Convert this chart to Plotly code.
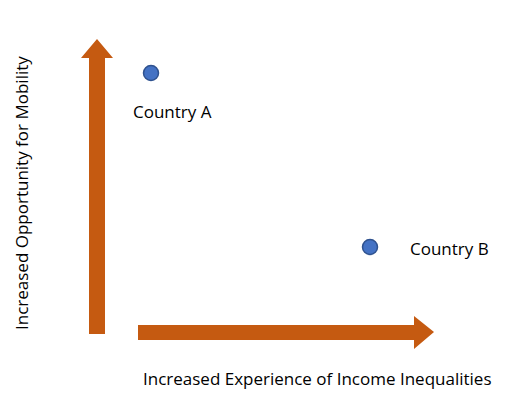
import plotly.graph_objects as go

# positions on a 516 x 411 canvas grid (x right, y down)
countries = ["Country A", "Country B"]
inequality = [150, 369]
mobility = [72, 246]
label_dx = [21, 79]
label_dy = [38, 1]

ORANGE = "#C55A11"
BLUE = "#4472C4"
SHIFT = 7  # compensates the page's body margin

fig = go.Figure()
fig.add_trace(go.Scatter(
    x=inequality, y=mobility, mode="markers",
    marker=dict(size=15, color=BLUE, line=dict(color="#2F528F", width=1.5)),
    hoverinfo="text", text=countries, showlegend=False,
))
for name, x, y, dx, dy in zip(countries, inequality, mobility, label_dx, label_dy):
    fig.add_annotation(x=x + dx, y=y + dy, text=name, showarrow=False,
                       font=dict(size=17, color="#000000"))

# vertical arrow
fig.add_shape(type="path", fillcolor=ORANGE, line=dict(width=0),
              path="M 88 333 L 104 333 L 104 57 L 112 57 L 96 38 L 80 57 L 88 57 Z")
# horizontal arrow
fig.add_shape(type="path", fillcolor=ORANGE, line=dict(width=0),
              path="M 137 324 L 413 324 L 413 315 L 433 331 L 413 348 L 413 339 L 137 339 Z")

fig.add_annotation(x=316, y=377, text="Increased Experience of Income Inequalities",
                   showarrow=False, font=dict(size=17, color="#000000"))
fig.add_annotation(x=20, y=192, text="Increased Opportunity for Mobility", textangle=-90,
                   showarrow=False, font=dict(size=17, color="#000000"))

fig.update_xaxes(range=[SHIFT, 516 + SHIFT], visible=False, fixedrange=True)
fig.update_yaxes(range=[411 + SHIFT, SHIFT], visible=False, fixedrange=True)
fig.update_layout(width=516, height=411, margin=dict(l=0, r=0, t=0, b=0),
                  paper_bgcolor="white", plot_bgcolor="white",
                  font=dict(family="Open Sans"))
fig.write_html("out.html")
